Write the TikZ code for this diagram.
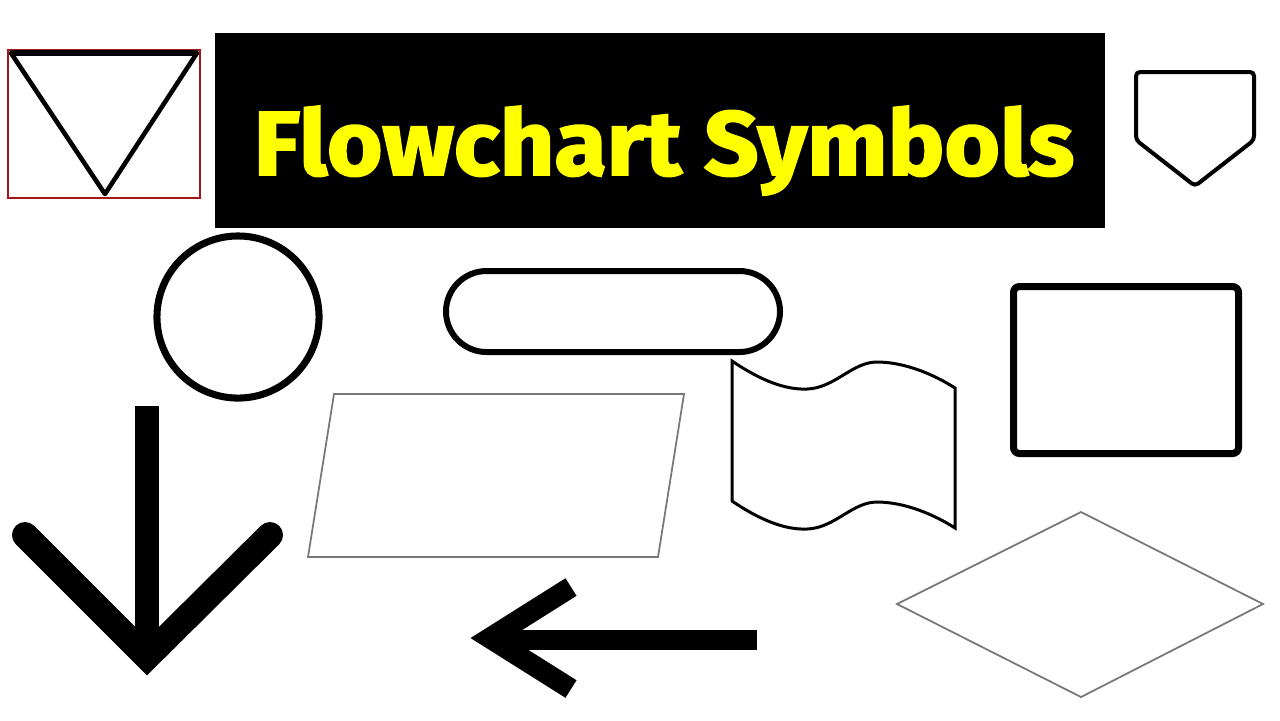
\documentclass[tikz,border=0pt]{standalone}
\usepackage{fontspec}
\newfontfamily\titlefont{Fira Sans}[BoldFeatures={FakeBold=2}]
\usetikzlibrary{calc}
\definecolor{titleyellow}{HTML}{FFFF00}
\definecolor{framered}{HTML}{A01818}
\definecolor{thingray}{HTML}{787878}
\tikzset{
  thickshape/.style={draw=black, line width=2pt},
  medshape/.style={draw=black, line width=1.14pt},
  thinshape/.style={draw=thingray, line width=0.5pt},
  bigarrow/.style={draw=black, line width=#1},
}
\begin{document}
\begin{tikzpicture}[x=0.01cm, y=-0.01cm]
\useasboundingbox (0,0) rectangle (1280,720);
\fill[white] (0,0) rectangle (1280,720);

% title banner
\fill[black] (215,33) rectangle (1105,228);
\node[anchor=base west, inner sep=0pt, text=titleyellow] (title) at (253,175)
  {\resizebox{8.2cm}{0.69cm}{\titlefont\bfseries Flowchart Symbols}};

% merge triangle with red frame
\draw[framered, line width=0.4pt] (8,50) rectangle (200,198);
\draw[black, line width=1.3pt, line join=round] (11,53) -- (197,53) -- (105,194) -- cycle;
\draw[black, line width=1.6pt] (11,53) -- (197,53);

% off-page connector
\draw[medshape, rounded corners=0.04cm] (1136,72) -- (1254,72) -- (1254,140) -- (1195,186) -- (1136,140) -- cycle;

% connector circle
\draw[thickshape] (238,317) circle[radius=0.81cm];

% terminal
\draw[draw=black, line width=1.7pt, rounded corners=0.405cm] (446,271) rectangle (780,352);

% process (rounded rectangle)
\draw[thickshape, rounded corners=0.06cm] (1013.5,286.5) rectangle (1238.5,453.5);

% input/output parallelogram
\draw[thinshape] (334,394) -- (684,394) -- (658,557) -- (308,557) -- cycle;

% punched tape
\draw[draw=black, line width=0.85pt, line join=miter]
  (732,361) .. controls (760,380) and (785,390) .. (807,389)
  .. controls (835,388) and (852,362) .. (877,362)
  .. controls (905,362) and (935,375) .. (955,388)
  -- (955,528)
  .. controls (935,515) and (905,502) .. (877,502)
  .. controls (852,502) and (835,528) .. (807,529)
  .. controls (785,530) and (760,520) .. (732,501)
  -- cycle;

% decision diamond
\draw[thinshape] (897,604) -- (1081,512) -- (1263,604) -- (1081,697) -- cycle;

% down arrow
\draw[bigarrow=6.83pt] (147,406) -- (147,650);
\draw[bigarrow=7.4pt, line cap=round, miter limit=10] (25,535) -- (147,657) -- (270,535);

% left arrow
\draw[bigarrow=5.9pt] (757,640) -- (500,640);
\draw[bigarrow=5.9pt, miter limit=10] (571,587) -- (490,638) -- (571,689);
\end{tikzpicture}
\end{document}
